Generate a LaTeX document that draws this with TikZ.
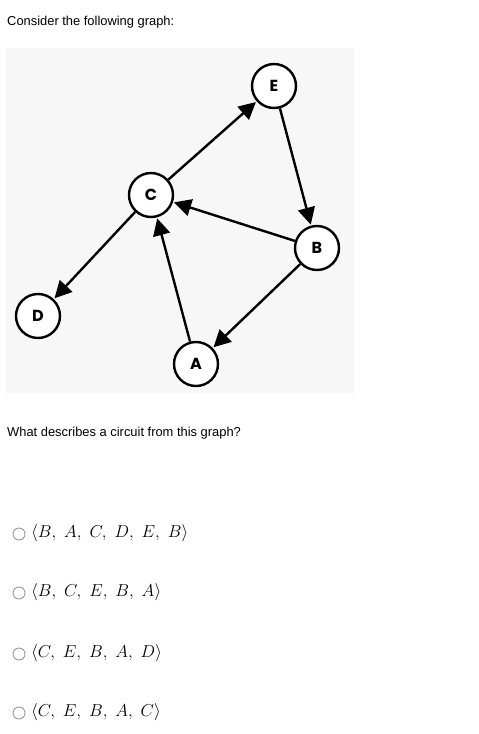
\documentclass[tikz,border=0pt]{standalone}
\usepackage{fontspec}
\setmainfont{Liberation Sans}
\newfontfamily\nodefont{Poppins}
\usetikzlibrary{arrows.meta}
\definecolor{panel}{HTML}{F7F7F7}
\begin{document}
\begin{tikzpicture}[x=1pt,y=-1pt,
  vertex/.style={circle,draw=black,line width=2.4pt,fill=white,minimum size=44pt,inner sep=0pt,font=\nodefont\bfseries\fontsize{16}{16}\selectfont},
  edge/.style={line width=2.4pt,-{Triangle[length=17pt,width=17pt]},shorten >=1pt},
  qtext/.style={anchor=west,inner sep=0pt,font=\fontsize{12.9}{15}\selectfont},
  opt/.style={anchor=west,inner sep=0pt,font=\fontsize{18.2}{20}\selectfont},
  radio/.style={circle,draw=gray!80,line width=0.9pt,minimum size=12pt,inner sep=0pt}]
\useasboundingbox (0,0) rectangle (479,734);
\fill[panel] (6,48) rectangle (354,393);
\node[qtext] (t1) at (7,22) {Consider the following graph:};
\node[vertex] (E) at (274,86) {E};
\node[vertex] (C) at (151,195) {C};
\node[vertex] (B) at (317,248) {B};
\node[vertex] (D) at (38,316) {D};
\node[vertex] (A) at (196,364) {A};
\draw[edge] (C) -- (E);
\draw[edge] (E) -- (B);
\draw[edge] (B) -- (C);
\draw[edge] (A) -- (C);
\draw[edge] (C) -- (D);
\draw[edge] (B) -- (A);
\node[qtext] (t2) at (7,433) {What describes a circuit from this graph?};
\node[radio] (r1) at (19,534) {};
\node[radio] (r2) at (19,593) {};
\node[radio] (r3) at (19,654) {};
\node[radio] (r4) at (19,713) {};
\node[opt] (o1) at (31,533) {$\langle B,\ A,\ C,\ D,\ E,\ B\rangle$};
\node[opt] (o2) at (31,592) {$\langle B,\ C,\ E,\ B,\ A\rangle$};
\node[opt] (o3) at (31,653) {$\langle C,\ E,\ B,\ A,\ D\rangle$};
\node[opt] (o4) at (31,712) {$\langle C,\ E,\ B,\ A,\ C\rangle$};
\end{tikzpicture}
\end{document}
